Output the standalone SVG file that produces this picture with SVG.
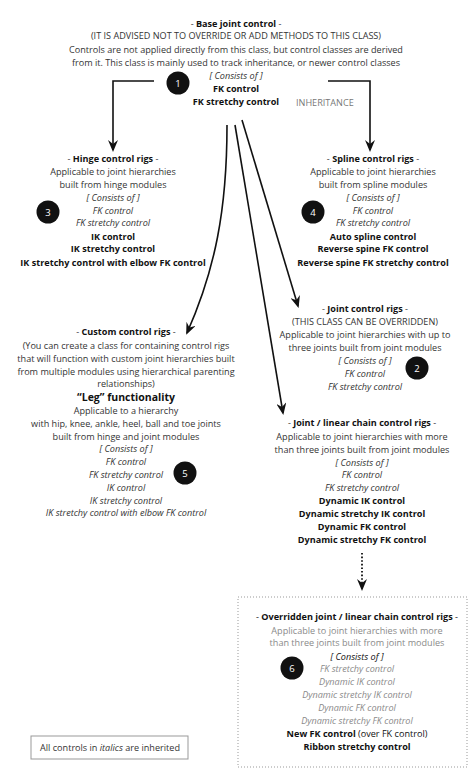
<svg xmlns="http://www.w3.org/2000/svg" width="474" height="779" viewBox="0 0 474 779">
<defs>
<style>
text{font-family:"Open Sans","Noto Sans",sans-serif;font-size:9.1px;fill:#333;text-anchor:middle}
.b{font-weight:bold;fill:#111}
.i{font-style:italic}
.g{fill:#8a8a8a}
.k{fill:#111}
.n{font-weight:normal}
.num{fill:#fff;font-size:9.5px}
.inh{fill:#777;text-anchor:start}
.leg{font-size:10.5px}
.con{fill:none;stroke:#111;stroke-width:1.6}
.dot{fill:none;stroke:#111;stroke-width:1.8;stroke-dasharray:1.6 2}
</style>
<marker id="ah" viewBox="0 0 12 10" refX="10" refY="5" markerWidth="12" markerHeight="10" markerUnits="userSpaceOnUse" orient="auto">
<path d="M0,0 L12,5 L0,10 L4,5 z" fill="#111"/>
</marker>
</defs>
<rect width="474" height="779" fill="#fff"/>

<g id="connectors">
<path class="con" d="M154,81 H113 V150" marker-end="url(#ah)"/>
<path class="con" d="M328,81 H370 V150" marker-end="url(#ah)"/>
<path class="con" d="M227,125 C227,210 215,270 187,333" marker-end="url(#ah)"/>
<path class="con" d="M235,125 L283,413" marker-end="url(#ah)"/>
<path class="con" d="M242,120 L298,306" marker-end="url(#ah)"/>
<path class="dot" d="M362,553 V583"/>
<path class="con" d="M362,583 V589" marker-end="url(#ah)"/>
<text class="inh" x="296" y="106">INHERITANCE</text>
</g>

<g id="base">
<text x="236" y="27"><tspan>- </tspan><tspan class="b">Base joint control</tspan><tspan> -</tspan></text>
<text x="236" y="39">(IT IS ADVISED NOT TO OVERRIDE OR ADD METHODS TO THIS CLASS)</text>
<text x="236" y="53">Controls are not applied directly from this class, but control classes are derived</text>
<text x="236" y="66">from it. This class is mainly used to track inheritance, or newer control classes</text>
<text class="i" x="236" y="79">[ Consists of ]</text>
<text class="b" x="236" y="92">FK control</text>
<text class="b" x="236" y="105">FK stretchy control</text>
<circle cx="178" cy="83" r="11.5" fill="#111"/>
<text class="num" x="178" y="86.5">1</text>
</g>

<g id="hinge">
<text x="113" y="162"><tspan>- </tspan><tspan class="b">Hinge control rigs</tspan><tspan> -</tspan></text>
<text x="113" y="175">Applicable to joint hierarchies</text>
<text x="113" y="188">built from hinge modules</text>
<text class="i" x="113" y="201">[ Consists of ]</text>
<text class="i" x="113" y="214">FK control</text>
<text class="i" x="113" y="226">FK stretchy control</text>
<text class="b" x="113" y="240">IK control</text>
<text class="b" x="113" y="252">IK stretchy control</text>
<text class="b" x="113" y="266">IK stretchy control with elbow FK control</text>
<circle cx="48" cy="212" r="11.5" fill="#111"/>
<text class="num" x="48" y="215.5">3</text>
</g>

<g id="spline">
<text x="373" y="162"><tspan>- </tspan><tspan class="b">Spline control rigs</tspan><tspan> -</tspan></text>
<text x="373" y="175">Applicable to joint hierarchies</text>
<text x="373" y="188">built from spline modules</text>
<text class="i" x="373" y="201">[ Consists of ]</text>
<text class="i" x="373" y="214">FK control</text>
<text class="i" x="373" y="226">FK stretchy control</text>
<text class="b" x="373" y="240">Auto spline control</text>
<text class="b" x="373" y="252">Reverse spine FK control</text>
<text class="b" x="373" y="266">Reverse spine FK stretchy control</text>
<circle cx="313" cy="212" r="11.5" fill="#111"/>
<text class="num" x="313" y="215.5">4</text>
</g>

<g id="custom">
<text x="126" y="335"><tspan>- </tspan><tspan class="b">Custom control rigs</tspan><tspan> -</tspan></text>
<text x="126" y="349">(You can create a class for containing control rigs</text>
<text x="126" y="362">that will function with custom joint hierarchies built</text>
<text x="126" y="375">from multiple modules using hierarchical parenting</text>
<text x="126" y="387">relationships)</text>
<text class="b leg" x="126" y="401">“Leg” functionality</text>
<text x="126" y="414">Applicable to a hierarchy</text>
<text x="126" y="427">with hip, knee, ankle, heel, ball and toe joints</text>
<text x="126" y="440">built from hinge and joint modules</text>
<text class="i" x="126" y="452">[ Consists of ]</text>
<text class="i" x="126" y="465">FK control</text>
<text class="i" x="126" y="478">FK stretchy control</text>
<text class="i" x="126" y="491">IK control</text>
<text class="i" x="126" y="504">IK stretchy control</text>
<text class="i" x="126" y="516">IK stretchy control with elbow FK control</text>
<circle cx="185" cy="473" r="11.5" fill="#111"/>
<text class="num" x="185" y="476.5">5</text>
</g>

<g id="joint">
<text x="365" y="312"><tspan>- </tspan><tspan class="b">Joint  control rigs</tspan><tspan> -</tspan></text>
<text x="365" y="325">(THIS CLASS CAN BE OVERRIDDEN)</text>
<text x="365" y="338">Applicable to joint hierarchies with up to</text>
<text x="365" y="351">three joints built from joint modules</text>
<text class="i" x="365" y="364">[ Consists of ]</text>
<text class="i" x="365" y="377">FK control</text>
<text class="i" x="365" y="390">FK stretchy control</text>
<circle cx="417" cy="368" r="11.5" fill="#111"/>
<text class="num" x="417" y="371.5">2</text>
</g>

<g id="linear">
<text x="362" y="426"><tspan>- </tspan><tspan class="b">Joint / linear chain control rigs</tspan><tspan> -</tspan></text>
<text x="362" y="440">Applicable to joint hierarchies with more</text>
<text x="362" y="453">than three joints built from joint modules</text>
<text class="i" x="362" y="466">[ Consists of ]</text>
<text class="i" x="362" y="478">FK control</text>
<text class="i" x="362" y="491">FK stretchy control</text>
<text class="b" x="362" y="504">Dynamic IK control</text>
<text class="b" x="362" y="517">Dynamic stretchy IK control</text>
<text class="b" x="362" y="530">Dynamic FK control</text>
<text class="b" x="362" y="543">Dynamic stretchy FK control</text>
</g>

<g id="overridden">
<rect x="238" y="597" width="229" height="170" fill="none" stroke="#999" stroke-width="1" stroke-dasharray="1 2"/>
<text x="357" y="620"><tspan class="k">- </tspan><tspan class="b">Overridden joint / linear chain control rigs</tspan><tspan class="k"> -</tspan></text>
<text class="g" x="357" y="634">Applicable to joint hierarchies with more</text>
<text class="g" x="357" y="646">than three joints built from joint modules</text>
<text class="i k" x="357" y="660">[ Consists of ]</text>
<text class="i g" x="357" y="672">FK stretchy control</text>
<text class="i g" x="357" y="685">Dynamic IK control</text>
<text class="i g" x="357" y="698">Dynamic stretchy IK control</text>
<text class="i g" x="357" y="711">Dynamic FK control</text>
<text class="i g" x="357" y="724">Dynamic stretchy FK control</text>
<text class="k" x="357" y="737"><tspan class="b">New FK control</tspan> (over FK control)</text>
<text class="b" x="357" y="750">Ribbon stretchy control</text>
<circle cx="292" cy="668" r="11.5" fill="#111"/>
<text class="num" x="292" y="671.5">6</text>
</g>

<g id="legend">
<rect x="31" y="736" width="157" height="23" fill="none" stroke="#999" stroke-width="1"/>
<text x="110" y="751">All controls in <tspan class="i">italics</tspan> are inherited</text>
</g>
</svg>
